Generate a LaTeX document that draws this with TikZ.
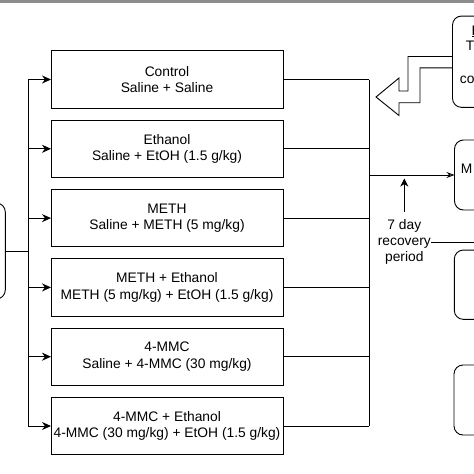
\documentclass[tikz,border=0pt]{standalone}
\usepackage{fontspec}
\setmainfont{Liberation Sans}
\usetikzlibrary{arrows.meta,positioning}

\begin{document}
\begin{tikzpicture}[
    x=1pt,y=-1pt,>=Stealth,node distance=11.8pt,line width=0.9pt,
    txt/.style={font=\fontsize{13.8pt}{16.2pt}\selectfont},
    group/.style={txt,draw,rectangle,minimum width=232pt,minimum height=57.5pt,
      align=center,inner sep=2pt,outer sep=0pt},
    stage/.style={draw,rounded corners=9pt,minimum width=120pt,outer sep=0pt,anchor=west},
    frag/.style={txt,anchor=west,inner sep=0pt},
    entry/.style={-{Stealth[length=9pt,width=8pt]}},
    intoM/.style={-{Stealth[open,length=8pt,width=6pt]}}
  ]
  \useasboundingbox (0,0) rectangle (474,474);
  \fill[black!45] (0,0) rectangle (474,2.5);

  \node[group] (ctrl) at (167,79.5) {Control\\Saline + Saline};
  \node[group] (etoh) [below=of ctrl] {Ethanol\\Saline + EtOH (1.5 g/kg)};
  \node[group] (meth) [below=of etoh] {METH\\Saline + METH (5 mg/kg)};
  \node[group] (methetoh) [below=of meth] {METH + Ethanol\\METH (5 mg/kg) + EtOH (1.5 g/kg)};
  \node[group] (mmc) [below=of methetoh] {4-MMC\\Saline + 4-MMC (30 mg/kg)};
  \node[group] (mmcetoh) [below=of mmc] {4-MMC + Ethanol\\4-MMC (30 mg/kg) + EtOH (1.5 g/kg)};

  \node[stage,anchor=east,minimum width=60pt,minimum height=96pt] (start) at (5.3,251) {};
  \node[stage,minimum height=91.3pt] (tests) at (452.5,61.7) {};
  \node[stage,minimum height=70pt] (boxM) at (454.5,175) {};
  \node[stage,minimum height=69.3pt] (boxC) at (454.3,284.7) {};
  \node[stage,minimum height=70pt] (boxD) at (454,400) {};

  \node[frag] (fragI) at (471.5,31.5) {\underline{\textbf{I}}};
  \node[frag] (fragT) at (465.5,45.5) {T};
  \node[frag] (fragco) at (459.5,80) {co};
  \node[frag] (fragM) at (460.5,168.5) {M};

  \node[txt,align=center,inner sep=0pt] (rec) at (404.3,242) {7 day\\recovery\\period};

  \coordinate (busL) at (28.3,0);
  \coordinate (busR) at (369,0);
  \coordinate (recout) at (500,242);

  \draw (start.east) -- (start.east -| busL);
  \draw (ctrl.west -| busL) -- (mmcetoh.west -| busL);
  \draw (ctrl.east -| busR) -- (mmcetoh.east -| busR);
  \foreach \g in {ctrl,etoh,meth,methetoh,mmc,mmcetoh} {
    \draw[entry] (\g.west -| busL) -- (\g.west);
    \draw (\g.east) -- (\g.east -| busR);
  }
  \draw[intoM] (boxM.west -| busR) -- (boxM.west);
  \draw[-{Stealth[length=8pt,width=8pt]}] ([yshift=7pt]rec.north) -- ([yshift=-3.6pt]rec.north |- boxM.west);
  \draw (rec.east) -- (recout);

  \draw (452.5,56.5) -- (408,56.5) -- (408,91) -- (399,91) -- (399,78) -- (376,97)
    -- (399,115.5) -- (399,102.7) -- (420,102.7) -- (420,67.8) -- (452.5,67.8);
\end{tikzpicture}
\end{document}
